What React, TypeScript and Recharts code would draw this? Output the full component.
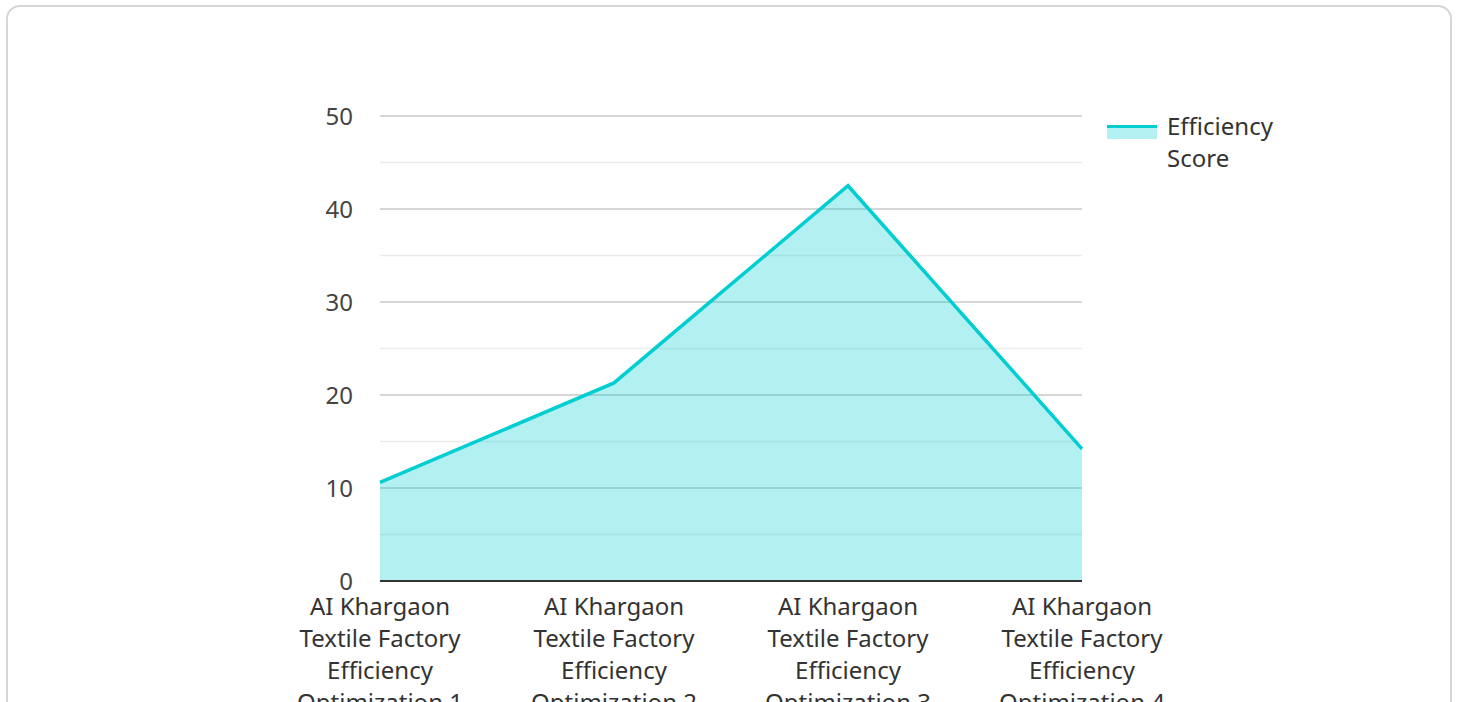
import React from "react";
import { AreaChart, Area, XAxis, YAxis, CartesianGrid } from "recharts";

const categories = [
  "AI Khargaon Textile Factory Efficiency Optimization 1",
  "AI Khargaon Textile Factory Efficiency Optimization 2",
  "AI Khargaon Textile Factory Efficiency Optimization 3",
  "AI Khargaon Textile Factory Efficiency Optimization 4",
];
const efficiencyScores = [10.6, 21.3, 42.5, 14.2];
const yTicks = [0, 10, 20, 30, 40, 50];
const yMinorTicks = [5, 15, 25, 35, 45];
const seriesName = "Efficiency Score";

const data = categories.map((name, i) => ({ name, score: efficiencyScores[i] }));

const FONT = "'Noto Sans', sans-serif";
const COLOR = "#00CED1";

let ctx: CanvasRenderingContext2D | null = null;
function measure(s: string): number {
  if (!ctx) {
    const c = document.createElement("canvas");
    ctx = c.getContext("2d");
  }
  if (!ctx) return s.length * 12;
  ctx.font = `24px 'Noto Sans'`;
  return ctx.measureText(s).width;
}

function wrap(text: string, maxWidth: number): string[] {
  const words = text.split(" ");
  const lines: string[] = [];
  let cur = "";
  for (const w of words) {
    const cand = cur ? cur + " " + w : w;
    if (cur && measure(cand) > maxWidth) {
      lines.push(cur);
      cur = w;
    } else {
      cur = cand;
    }
  }
  if (cur) lines.push(cur);
  return lines;
}

const XTick = (props: any) => {
  const { x, y, payload } = props;
  const lines = wrap(String(payload.value), 190);
  return (
    <text x={x} y={y} textAnchor="middle" fill="#333" style={{ fontSize: 24, fontFamily: FONT }}>
      {lines.map((l, i) => (
        <tspan key={i} x={x} dy={i === 0 ? "0.71em" : 32}>
          {l}
        </tspan>
      ))}
    </text>
  );
};

export default function App() {
  return (
    <div style={{ position: "absolute", left: 0, top: 0, width: 1458, height: 702, overflow: "hidden", fontFamily: FONT }}>
      <div
        style={{
          position: "absolute",
          left: 6,
          top: 5,
          width: 1442,
          height: 800,
          border: "2px solid #d6d6d6",
          borderRadius: 14,
          background: "#fff",
        }}
      />
      <div style={{ position: "absolute", left: 0, top: 0 }}>
        <AreaChart
          width={1458}
          height={702}
          data={data}
          margin={{ top: 116, right: 376, bottom: 0, left: 0 }}
        >
          <CartesianGrid horizontalValues={yMinorTicks} vertical={false} stroke="#ebebeb" strokeWidth={1.5} />
          <CartesianGrid horizontalValues={yTicks} vertical={false} stroke="#c8c8c8" strokeWidth={1.5} />
          <XAxis
            dataKey="name"
            interval={0}
            height={121}
            tickLine={false}
            tickMargin={11}
            axisLine={{ stroke: "#333", strokeWidth: 2 }}
            tick={<XTick />}
          />
          <YAxis
            width={380}
            domain={[0, 50]}
            ticks={yTicks}
            axisLine={false}
            tickLine={false}
            tickMargin={21}
            tick={{ fontSize: 24, fill: "#444", fontFamily: FONT }}
          />
          <Area
            type="linear"
            dataKey="score"
            name={seriesName}
            stroke={COLOR}
            strokeWidth={3.5}
            fill={COLOR}
            fillOpacity={0.3}
            isAnimationActive={false}
            dot={false}
            activeDot={false}
          />
        </AreaChart>
      </div>
      <div style={{ position: "absolute", left: 1107, top: 110, display: "flex", alignItems: "flex-start" }}>
        <div style={{ width: 50, height: 14, marginTop: 15, position: "relative" }}>
          <div style={{ position: "absolute", left: 0, top: 0, width: 50, height: 14, background: COLOR, opacity: 0.3 }} />
          <div style={{ position: "absolute", left: 0, top: 0, width: 50, height: 3, background: COLOR }} />
        </div>
        <div style={{ marginLeft: 10, width: 130, fontSize: 24, lineHeight: "32px", color: "#333", fontFamily: FONT }}>
          {seriesName}
        </div>
      </div>
    </div>
  );
}
